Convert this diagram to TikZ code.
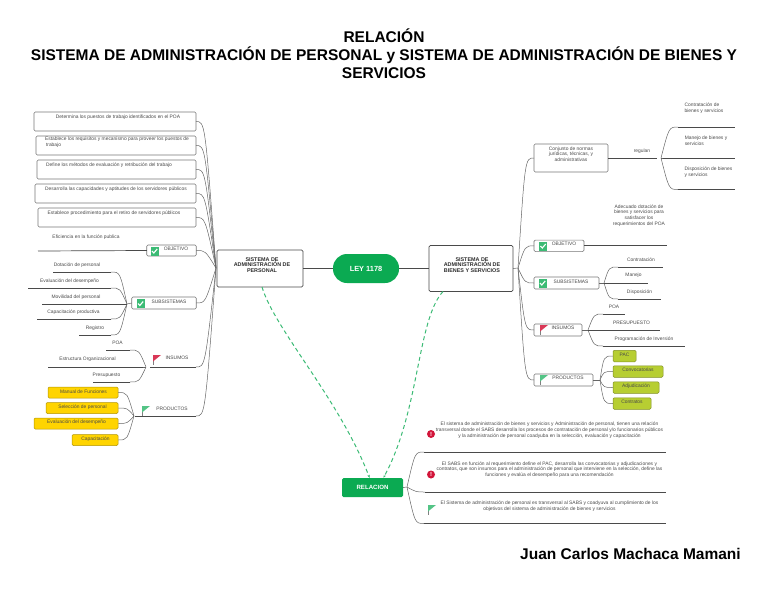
\documentclass[tikz,border=0pt]{standalone}
\usepackage{fontspec}
\setmainfont{Liberation Sans}
\usepackage{xcolor}
\usetikzlibrary{arrows.meta,shapes}
\definecolor{verde}{HTML}{0BAA52}
\definecolor{amarillo}{HTML}{FFD400}
\definecolor{lima}{HTML}{B7CE32}
\definecolor{rojo}{HTML}{D2153A}
\definecolor{gris}{HTML}{4A4A4A}
\newcommand{\chequeo}[2]{\fill[verde!80!white](#1-4,#2-4.5)rectangle(#1+4,#2+4.5);
\draw[white,line width=1.1pt](#1-2.5,#2)--(#1-.7,#2+2)--(#1+2.7,#2-2);}
\newcommand{\bandera}[3]{\draw[gray,line width=.4pt](#2,#3)--(#2,#3+10);
\fill[#1](#2,#3)--(#2+8,#3)--(#2,#3+6.5)--cycle;}
\tikzset{
  caja/.style={draw=gris!75,rounded corners=1.3pt,line width=.6pt,fill=white,inner sep=0pt,outer sep=0pt},
  centro/.style={draw=gris,rounded corners=1.3pt,line width=.7pt,fill=white,inner sep=0pt,outer sep=0pt},
  txt/.style={font=\fontsize{4.9}{5.7}\selectfont,text=gris,align=center,inner sep=0pt},
  negrita/.style={font=\bfseries\fontsize{5.4}{5.6}\selectfont,text=gris!60!black,align=center,inner sep=0pt},
  linea/.style={draw=gris,line width=.7pt},
  rama/.style={draw=gris!85,line width=.5pt},
  alaizq/.style={to path={.. controls ([xshift=9pt]\tikztostart) .. (\tikztotarget)}},
  alader/.style={to path={.. controls ([xshift=-9pt]\tikztotarget) .. (\tikztotarget)}},
  enlace/.style={draw=verde!80!white,dash pattern=on 4pt off 3pt,line width=1pt,-{Stealth[length=3pt]}},
  amar/.style={draw=amarillo!70!black,fill=amarillo,rounded corners=1.3pt,line width=.5pt,inner sep=0pt},
  verd/.style={draw=lima!70!black,fill=lima,rounded corners=1.3pt,line width=.5pt,inner sep=0pt},
  alerta/.style={circle,fill=rojo,text=white,font=\bfseries\fontsize{6}{6}\selectfont,inner sep=0pt,minimum size=8pt}
}
\begin{document}
\begin{tikzpicture}[x=1pt,y=-1pt]
\useasboundingbox(0,0)rectangle(768,594);
% titulo
\node(titulo)[align=center,font=\bfseries\fontsize{15.5}{17.8}\selectfont,text=black] at (384,53.5)
{RELACIÓN\\SISTEMA DE ADMINISTRACIÓN DE PERSONAL y SISTEMA DE ADMINISTRACIÓN DE BIENES Y\\SERVICIOS};
\node(autor)[font=\bfseries\fontsize{15.5}{16}\selectfont,text=black] at (630.5,553.5){Juan Carlos Machaca Mamani};
% centro
\node(pers)[centro,minimum width=86pt,minimum height=37pt] at (260,268.5){};
\node(bien)[centro,minimum width=84pt,minimum height=46pt] at (471,268.5){};
\node(ley)[fill=verde,rounded corners=14pt,minimum width=66pt,minimum height=29pt,inner sep=0pt,text=white,font=\bfseries\fontsize{7.4}{8}\selectfont] at (366,268.5){LEY 1178};
\node(rel)[fill=verde,rounded corners=1.5pt,minimum width=61pt,minimum height=19pt,inner sep=0pt,text=white,font=\bfseries\fontsize{6.1}{7}\selectfont] at (372.5,487.5){RELACION};
\node(tpers)[negrita] at (262,265){SISTEMA DE\\ADMINISTRACIÓN DE\\PERSONAL};
\node(tbien)[negrita] at (472,265){SISTEMA DE\\ADMINISTRACIÓN DE\\BIENES Y SERVICIOS};
\draw[linea](pers.east)--(ley.west);
\draw[linea](ley.east)--(bien.west);
\draw[enlace]([xshift=2pt]pers.south).. controls (275,330) and (340,400) ..([xshift=-3pt]rel.north);
\draw[enlace]([xshift=14pt]bien.south west).. controls (417,320) and (420,410) ..([xshift=11pt]rel.north);
\coordinate(hubi)at(216,268);
\coordinate(hubd)at(518,268);
\draw[rama](bien.east)--(hubd);
% izquierda, cajas
\foreach \n/\cx/\cy/\w/\h/\t/\tx/\ty in {
a/115/121.5/162/19/{Determina los puestos de trabajo identificados en el POA}/118/117.5,
b/116/145.5/160/19/{Establece los requisitos y mecanismo para proveer los puestos de\\trabajo\hspace*{127pt}}/117/142.5,
c/116.5/169.5/159/19/{Define los métodos de evaluación y retribución del trabajo}/109/165,
d/115.5/193.5/161/19/{Desarrolla las capacidades y aptitudes de los servidores públicos}/116/189,
e/117/217.5/158/19/{Establece procedimiento para el retiro de servidores públicos}/114/213.5}{
\node(\n)[caja,minimum width=\w pt,minimum height=\h pt] at (\cx,\cy){};
\node(t\n)[txt] at (\tx,\ty){\t};
\draw[rama](\n.east)to[alaizq](hubi);
}
% izquierda, objetivo
\coordinate(obja)at(38,251);
\node(obj)[caja,minimum width=49.5pt,minimum height=11pt] at (171.5,250.5){};
\draw[linea](obja)--(obj.west);
\draw[rama](obj.east)to[alaizq](hubi);
\node(tefi)[txt] at (86,237){Eficiencia en la función publica};
\node(tobj)[txt] at (176,248.5){OBJETIVO};
\chequeo{154.5}{251}
% izquierda, subsistemas
\node(sub)[caja,minimum width=64.5pt,minimum height=12pt] at (164,303){};
\node(tsub)[txt] at (169,301.5){SUBSISTEMAS};
\chequeo{140.5}{303.5}
\draw[rama](sub.east)to[alaizq](hubi);
\coordinate(hsub)at(127,304);
\foreach \n/\xa/\xb/\y/\tx/\t in {
sa/53/111/272/77/{Dotación de personal},
sb/28/111/288/69.5/{Evaluación del desempeño},
sd/37/111/319/73.5/{Capacitación productiva},
se/79/111/335/95/{Registro}}{
\coordinate(\n a)at(\xa,\y);\coordinate(\n b)at(\xb,\y);
\draw[linea](\n a)--(\n b);
\node(t\n)[txt] at (\tx,\y-7){\t};
\draw[rama](\n b)to[alaizq](hsub);
}
\coordinate(sca)at(42,304);
\draw[linea](sca)--(hsub);
\draw[rama](hsub)--(sub.west);
\node(tsc)[txt] at (76,297){Movilidad del personal};
% izquierda, insumos
\coordinate(insa)at(150,367);\coordinate(insb)at(196,367);
\draw[linea](insa)--(insb);
\draw[rama](insb)to[alaizq](hubi);
\node(tins)[txt] at (177,358){INSUMOS};
\bandera{rojo!85!white}{153}{355}
\coordinate(hins)at(146,367);
\foreach \n/\xa/\xb/\y/\tx/\t in {
ia/106/130/350/117.5/{POA},
ic/93/130/382/106.5/{Presupuesto}}{
\coordinate(\n a)at(\xa,\y);\coordinate(\n b)at(\xb,\y);
\draw[linea](\n a)--(\n b);
\node(t\n)[txt] at (\tx,\y-7){\t};
\draw[rama](\n b)to[alaizq](hins);
}
\coordinate(iba)at(48,367);\coordinate(ibb)at(143,367);
\draw[linea](iba)--(ibb);
\draw[rama](ibb)--(hins);
\node(tib)[txt] at (87.5,359.5){Estructura Organizacional};
% izquierda, productos
\coordinate(proa)at(135,416);\coordinate(prob)at(196,416);
\draw[linea](proa)--(prob);
\draw[rama](prob)to[alaizq](hubi);
\node(tpro)[txt] at (172,409){PRODUCTOS};
\bandera{verde!70!white}{142}{406}
\coordinate(hpro)at(134,416);
\foreach \n/\cx/\cy/\w/\t in {
ya/83/392.5/70/{Manual de Funciones},
yb/82/408/72/{Selección de personal},
yc/76/423.5/84/{Evaluación del desempeño},
yd/95/440/46/{Capacitación}}{
\node(\n)[amar,minimum width=\w pt,minimum height=11pt] at (\cx,\cy){};
\node(t\n)[txt] at (\cx+.5,\cy-1){\t};
\draw[rama](\n.east)to[alaizq](hpro);
}
% derecha, normas
\node(nor)[caja,minimum width=74pt,minimum height=28pt] at (571,158){};
\node(tnor)[txt] at (571,154){Conjunto de normas\\jurídicas, técnicas, y\\administrativas};
\draw[rama](hubd)to[alader](nor.west);
\coordinate(regb)at(657,158);\coordinate(hreg)at(661,158);
\draw[linea](nor.east)--(regb);
\node(treg)[txt] at (642,151){regulan};
\foreach \n/\xa/\xb/\y/\tx/\ty/\t in {
ra/678/735/127/704/108/{Contratación de\\bienes y servicios},
rb/678/735/189.5/708.5/172/{Disposición de bienes\\y servicios}}{
\coordinate(\n a)at(\xa,\y);\coordinate(\n b)at(\xb,\y);
\draw[linea](\n a)--(\n b);
\node(t\n)[txt,align=left] at (\tx,\ty){\t};
\draw[rama](hreg)to[alader](\n a);
}
\coordinate(rca)at(663,158);\coordinate(rcb)at(735,158);
\draw[linea](rca)--(rcb);
\draw[rama](hreg)--(rca);
\node(trc)[txt,align=left] at (706,140.5){Manejo de bienes y\\servicios};
% derecha, objetivo
\node(obd)[caja,minimum width=50pt,minimum height=11.5pt] at (559,245.8){};
\node(tobd)[txt] at (564,244){OBJETIVO};
\chequeo{543}{246}
\coordinate(obdb)at(667,245.8);
\draw[linea](obd.east)--(obdb);
\draw[rama](hubd)to[alader](obd.west);
\node(tade)[txt] at (639,215.5){Adecuado dotación de\\bienes y servicios para\\satisfacer los\\requerimientos del POA};
% derecha, subsistemas
\node(sud)[caja,minimum width=65pt,minimum height=12pt] at (566.5,283){};
\node(tsud)[txt] at (571,281.5){SUBSISTEMAS};
\chequeo{542.5}{283}
\draw[rama](hubd)to[alader](sud.west);
\coordinate(hsud)at(604,283);
\draw[rama](sud.east)--(hsud);
\foreach \n/\xa/\xb/\y/\tx/\t in {
ua/618/663/267/641/{Contratación},
uc/618/661/299/639.5/{Disposición}}{
\coordinate(\n a)at(\xa,\y);\coordinate(\n b)at(\xb,\y);
\draw[linea](\n a)--(\n b);
\node(t\n)[txt] at (\tx,\y-7){\t};
\draw[rama](hsud)to[alader](\n a);
}
\coordinate(ubb)at(648,283);
\draw[linea](hsud)--(ubb);
\node(tub)[txt] at (633.5,275){Manejo};
% derecha, insumos
\node(ind)[caja,minimum width=48pt,minimum height=12pt] at (558,330){};
\node(tind)[txt] at (563,328){INSUMOS};
\bandera{rojo!85!white}{540}{325}
\draw[rama](hubd)to[alader](ind.west);
\coordinate(hind)at(588,330);
\draw[rama](ind.east)--(hind);
\foreach \n/\xa/\xb/\y/\tx/\t in {
va/603/625/314/614/{POA},
vc/603/685/346/644/{Programación de Inversión}}{
\coordinate(\n a)at(\xa,\y);\coordinate(\n b)at(\xb,\y);
\draw[linea](\n a)--(\n b);
\node(t\n)[txt] at (\tx,\y-7){\t};
\draw[rama](hind)to[alader](\n a);
}
\coordinate(vbb)at(660,330);
\draw[linea](hind)--(vbb);
\node(tvb)[txt] at (631.5,323){PRESUPUESTO};
% derecha, productos
\node(prd)[caja,minimum width=59pt,minimum height=12pt] at (563.5,380){};
\node(tprd)[txt] at (568,378){PRODUCTOS};
\bandera{verde!70!white}{540}{375}
\draw[rama](hubd)to[alader](prd.west);
\coordinate(hprd)at(600,380);
\draw[rama](prd.east)--(hprd);
\foreach \n/\cx/\cy/\w/\t in {
wa/624.5/356/23/{PAC},
wb/638/371.5/50/{Convocatorias},
wc/636/387.5/46/{Adjudicación},
wd/632/403.5/38/{Contratos}}{
\node(\n)[verd,minimum width=\w pt,minimum height=11.5pt] at (\cx,\cy){};
\node(t\n)[txt] at (\cx,\cy-1.5){\t};
\draw[rama](hprd)to[alader](\n.west);
}
% relacion
\coordinate(hrel)at(407,487);
\draw[rama](rel.east)--(hrel);
\foreach \n/\xa/\y in {xa/424/452,xb/425/492,xc/424/523.5}{
\coordinate(\n a)at(\xa,\y);\coordinate(\n b)at(666,\y);
\draw[linea](\n a)--(\n b);
\draw[rama](hrel)to[alader](\n a);
}
\node(txa)[txt] at (549.5,430){El sistema de administración de bienes y servicios y Administración de personal, tienen una relación\\transversal donde el SABS desarrolla los procesos de contratación de personal y/o funcionarios públicos\\y la administración de personal coadyuba en la selección, evaluación y capacitación};
\node(txb)[txt] at (549.5,469.5){El SABS en función al requerimiento define el PAC, desarrolla las convocatorias y adjudicaciones y\\contratos, que son insumos para el administración de personal que interviene en la selección, define las\\funciones y evalúa el desempeño para una recomendación};
\node(txc)[txt] at (549.5,506){El Sistema de administración de personal es transversal al SABS y coadyuva al cumplimiento de los\\objetivos del sistema de administración de bienes y servicios};
\node(ala)[alerta] at (431,434){!};
\node(alb)[alerta] at (431,474.5){!};
\bandera{verde!70!white}{428}{505}
\end{tikzpicture}
\end{document}
